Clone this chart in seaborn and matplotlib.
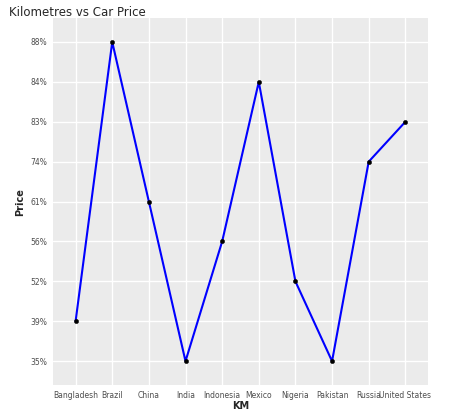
import matplotlib
matplotlib.use("Agg")
import matplotlib.pyplot as plt
import seaborn as sns
import pandas as pd

countries = ["Bangladesh", "Brazil", "China", "India", "Indonesia", "Mexico",
             "Nigeria", "Pakistan", "Russia", "United States"]
prices = ["39%", "88%", "61%", "35%", "56%", "84%", "52%", "35%", "74%", "83%"]
price_levels = ["35%", "39%", "52%", "56%", "61%", "74%", "83%", "84%", "88%"]

sns.set_theme(style="darkgrid", rc={"axes.facecolor": "#EBEBEB", "grid.color": "white"})
df = pd.DataFrame({"KM": countries, "Price": prices})
df["x"] = range(len(countries))
df["y"] = [price_levels.index(p) for p in prices]

fig = plt.figure(figsize=(4.52, 4.2), dpi=100)
ax = fig.add_axes([0.117, 0.083, 0.83, 0.874])
sns.lineplot(data=df, x="x", y="y", color="blue", linewidth=1.5, ax=ax)
sns.scatterplot(data=df, x="x", y="y", color="black", s=10, edgecolor="black", ax=ax, zorder=3)
ax.set_xticks(range(len(countries)))
ax.set_xticklabels(countries, fontsize=5.5, color="#4D4D4D")
ax.set_yticks(range(len(price_levels)))
ax.set_yticklabels(price_levels, fontsize=5.5, color="#4D4D4D")
ax.set_xlim(-0.62, len(countries) - 0.38)
ax.set_ylim(-0.6, len(price_levels) - 0.4)
ax.tick_params(length=2, pad=2, color="#333333")
ax.set_xlabel("KM", fontsize=7, fontweight="bold", labelpad=1)
ax.set_ylabel("Price", fontsize=7, fontweight="bold")
for s in ax.spines.values():
    s.set_visible(False)
fig.text(0.02, 0.985, "Kilometres vs Car Price", fontsize=8.5, va="top")
fig.savefig("out.png", dpi=100)
